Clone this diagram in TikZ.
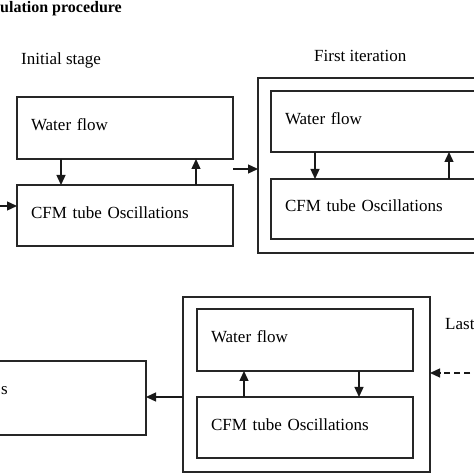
\documentclass[tikz,border=0pt]{standalone}
\usepackage{fontspec}
\setmainfont{Liberation Serif}
\usetikzlibrary{arrows.meta}

\begin{document}
\begin{tikzpicture}[x=1pt, y=1pt,
  stagebox/.style={draw=black!85, line width=1.4pt, inner xsep=14pt, inner ysep=0pt,
    outer sep=0pt, align=left, text height=12pt, text depth=6pt,
    font=\fontsize{17}{20}\selectfont},
  framebox/.style={draw=black!85, line width=1.4pt, outer sep=0pt, inner sep=0pt},
  stagelabel/.style={font=\fontsize{17}{20}\selectfont, inner sep=0pt},
  flow/.style={-{Triangle[length=10pt,width=9pt]}, line width=1.3pt, black!90}]
  \useasboundingbox (0,0) rectangle (474,474);
  \clip (0,0) rectangle (474,474);

  % Headings
  \node[font=\bfseries\fontsize{16}{19}\selectfont, anchor=base west, inner sep=0pt] (title) at (0,461) {ulation procedure};
  \node[stagelabel, anchor=base west] (stage0) at (21,409) {Initial stage};
  \node[stagelabel, anchor=base west] (stage1) at (314,412) {First iteration};
  \node[stagelabel, anchor=base west] (stageN) at (445,144) {Last};

  % Initial stage
  \node[stagebox, text width=188pt, minimum height=62pt] (wf0) at (125,346) {Water flow};
  \node[stagebox, text width=188pt, minimum height=61pt] (cfm0) at (125,258.5) {CFM tube Oscillations};
  \draw[flow] ([xshift=44pt]wf0.south west) -- ([xshift=44pt]cfm0.north west);
  \draw[flow] ([xshift=179pt]cfm0.north west) -- ([xshift=179pt]wf0.south west);
  \coordinate (src) at (0,268);
  \draw[flow] (src) -- (src -| cfm0.west);

  % First iteration
  \node[framebox, minimum width=272pt, minimum height=175pt] (it1) at (394,308.5) {};
  \node[stagebox, text width=216pt, minimum height=61pt] (wf1) at (393,352.5) {Water flow};
  \node[stagebox, text width=216pt, minimum height=60pt] (cfm1) at (393,265) {CFM tube Oscillations};
  \draw[flow] ([xshift=44pt]wf1.south west) -- ([xshift=44pt]cfm1.north west);
  \draw[flow] ([xshift=178pt]cfm1.north west) -- ([xshift=178pt]wf1.south west);
  \coordinate (gap0) at (233,305);
  \draw[flow] (gap0) -- (gap0 -| it1.west);

  % Last iteration
  \node[framebox, minimum width=247pt, minimum height=175pt] (itN) at (306.5,89.5) {};
  \node[stagebox, text width=188pt, minimum height=62pt] (wf2) at (305,134) {Water flow};
  \node[stagebox, text width=188pt, minimum height=61pt] (cfm2) at (305,46.5) {CFM tube Oscillations};
  \draw[flow] ([xshift=47pt]cfm2.north west) -- ([xshift=47pt]wf2.south west);
  \draw[flow] ([xshift=162pt]wf2.south west) -- ([xshift=162pt]cfm2.north west);
  \coordinate (lastin) at (480,101);
  \draw[flow, dash pattern=on 6pt off 4pt] (lastin) -- (lastin -| itN.east);

  % Result
  \node[framebox, minimum width=226pt, minimum height=74pt] (res) at (33,76) {};
  \node[stagelabel, anchor=base east] (restext) at (8,79) {s};
  \coordinate (outN) at ([yshift=-12.5pt]itN.west);
  \draw[flow] (outN) -- (outN -| res.east);
\end{tikzpicture}
\end{document}
